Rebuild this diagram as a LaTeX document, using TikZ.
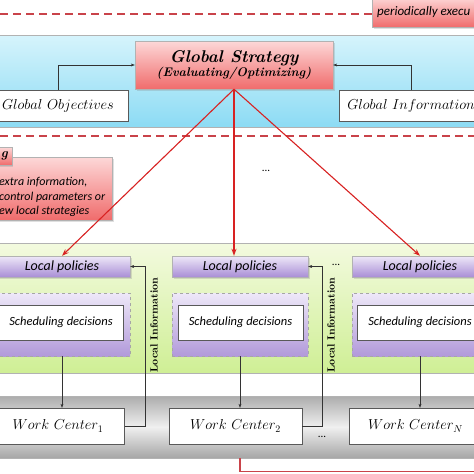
\documentclass[tikz,border=0pt]{standalone}
\usepackage{fontspec}
\newfontfamily\calibri{Carlito}
\usetikzlibrary{arrows.meta,shadows,positioning}

\definecolor{blueTop}{HTML}{D6F4FC}
\definecolor{blueBot}{HTML}{8CDBF4}
\definecolor{greenTop}{HTML}{F3FADF}
\definecolor{greenBot}{HTML}{CFEF95}
\definecolor{redTop}{HTML}{FDD8D8}
\definecolor{redBot}{HTML}{F06C6C}
\definecolor{purpleTop}{HTML}{EEE8F8}
\definecolor{purpleBot}{HTML}{A98ED6}
\definecolor{sepRed}{HTML}{C9434A}
\definecolor{cmdRed}{HTML}{D82222}

\begin{document}
\begin{tikzpicture}[
	x=1pt, y=-1pt,
	band/.style={draw=gray!60, minimum width=485pt, inner sep=0pt},
	plainbox/.style={draw=gray!70!black, fill=white, minimum height=31pt, inner sep=2pt},
	redbox/.style={draw=gray!60, top color=redTop, bottom color=redBot,
		drop shadow={opacity=0.25, shadow xshift=1.5pt, shadow yshift=-1.5pt}},
	policy/.style={draw=gray!60, top color=purpleTop, bottom color=purpleBot,
		minimum width=136pt, minimum height=21pt, inner sep=0pt,
		font=\calibri\itshape\fontsize{14}{16}\selectfont,
		drop shadow={opacity=0.25, shadow xshift=1.5pt, shadow yshift=-1.5pt}},
	container/.style={draw=gray!70, dashed, top color=purpleTop, bottom color=purpleBot!90,
		minimum width=136pt, minimum height=63pt, inner sep=0pt},
	decision/.style={draw=gray!70!black, fill=white, minimum width=125pt, minimum height=35pt,
		inner sep=0pt, font=\calibri\itshape\fontsize{12.5}{14}\selectfont},
	center/.style={draw=gray!70!black, fill=white, minimum width=133pt, minimum height=36pt,
		inner sep=0pt, font=\fontsize{14}{16}\selectfont},
	infolabel/.style={rotate=90, font=\bfseries\fontsize{10.5}{12}\selectfont},
	sepline/.style={draw=sepRed, line width=1.6pt, dash pattern=on 8pt off 5pt},
	flow/.style={draw=black!80, -{Stealth[length=4pt,width=3pt]}},
	command/.style={draw=cmdRed, line width=1.1pt, -{Stealth[length=7pt,width=5pt]}},
	backline/.style={draw=sepRed, line width=1.2pt},
	dots/.style={font=\calibri\fontsize{11}{12}\selectfont, inner sep=0pt}
]
\clip (0,0) rectangle (474,474);
\fill[white] (0,0) rectangle (474,474);

% three layers
\node[band, minimum height=92pt, top color=blueTop, bottom color=blueBot] (globalband) at (237.5,81) {};
\node[band, minimum height=130pt, top color=greenTop, bottom color=greenBot] (localband) at (237.5,308) {};
\node[band, minimum height=62pt, top color=gray!65, bottom color=gray!70, middle color=gray!12] (shopband) at (237.5,427) {};

% separators
\node[redbox, anchor=west, minimum height=30pt, inner xsep=5pt,
	font=\calibri\itshape\fontsize{13}{15}\selectfont] (periodic) at (372,12) {periodically execu};
\draw[sepline] (0,14) -- (periodic.west |- 0,14);
\draw[sepline] (0,136) -- (480,136);

% global strategy
\node[redbox, minimum width=198pt, minimum height=48pt, align=center, inner sep=1pt] (strategy) at (234,65)
	{{\bfseries\itshape\fontsize{17}{19}\selectfont Global Strategy}\\
	 {\bfseries\itshape\fontsize{12.5}{14}\selectfont (Evaluating/Optimizing)}};
\node[plainbox, minimum width=140pt, font=\fontsize{14.5}{16}\selectfont] (globobj) at (58,105.5) {$Global\ Objectives$};
\node[plainbox, minimum width=144pt, font=\fontsize{13.5}{16}\selectfont] (globinfo) at (411,105.5) {$Global\ Information$};
\draw[flow] (globobj.north) |- (strategy.west);
\draw[flow] (globinfo.north) |- (strategy.east);

% learning
\node[redbox, minimum width=126pt, minimum height=63pt] (feedbackbox) at (49,188.5) {};
\node[redbox, anchor=east, minimum height=18pt, text width=22pt, inner xsep=4pt, align=right,
	font=\bfseries\itshape\fontsize{13}{15}\selectfont] (learning) at (12,156) {g};
\node[anchor=west, align=left, inner sep=0pt, font=\calibri\itshape\fontsize{12}{14.5}\selectfont] (feedback) at (-1,197)
	{extra information,\\ control parameters or\\ ew local strategies};
\node[dots] (dots1) at (266,171) {...};

% local layer
\node[policy] (lp1) at (62,266.5) {Local policies};
\node[policy] (lp2) at (240,266.5) {Local policies};
\node[policy] (lpN) at (420,266.5) {Local policies};
\node[dots] (dots2) at (336,265) {...};

\node[container] (sc1) at (62,324.5) {};
\node[container] (sc2) at (240,324.5) {};
\node[container] (scN) at (420,324.5) {};
\node[decision] (sd1) at (61,322.5) {Scheduling decisions};
\node[decision] (sd2) at (240.5,322.5) {Scheduling decisions};
\node[decision] (sdN) at (420,322.5) {Scheduling decisions};

\draw[command] (strategy.south) -- (lp1.north);
\draw[command] (strategy.south) -- (strategy.south |- lp2.north);
\draw[command] (strategy.south) -- (lpN.north);

% shop floor
\node[center] (wc1) at (58,426) {$Work\ Center_1$};
\node[center] (wc2) at (235.5,426) {$Work\ Center_2$};
\node[center] (wcN) at (415.5,426) {$Work\ Center_N$};
\node[dots] (dots3) at (322,437) {...};

\draw[flow] (sc1.south) -- (sc1.south |- wc1.north);
\draw[flow] (sc2.south) -- (sc2.south |- wc2.north);
\draw[flow] (scN.south) -- (scN.south |- wcN.north);

\draw[flow] (wc1.east) -- ++(20,0) |- (lp1.east);
\draw[flow] (wc2.east) -- ++(20,0) |- (lp2.east);
\node[infolabel] (info1) at (154,325) {Local Information};
\node[infolabel] (info2) at (331,325) {Local Information};

\draw[backline] ([xshift=2.5pt]shopband.south) -- ++(0,13) -- ++(240,0);

\end{tikzpicture}
\end{document}
